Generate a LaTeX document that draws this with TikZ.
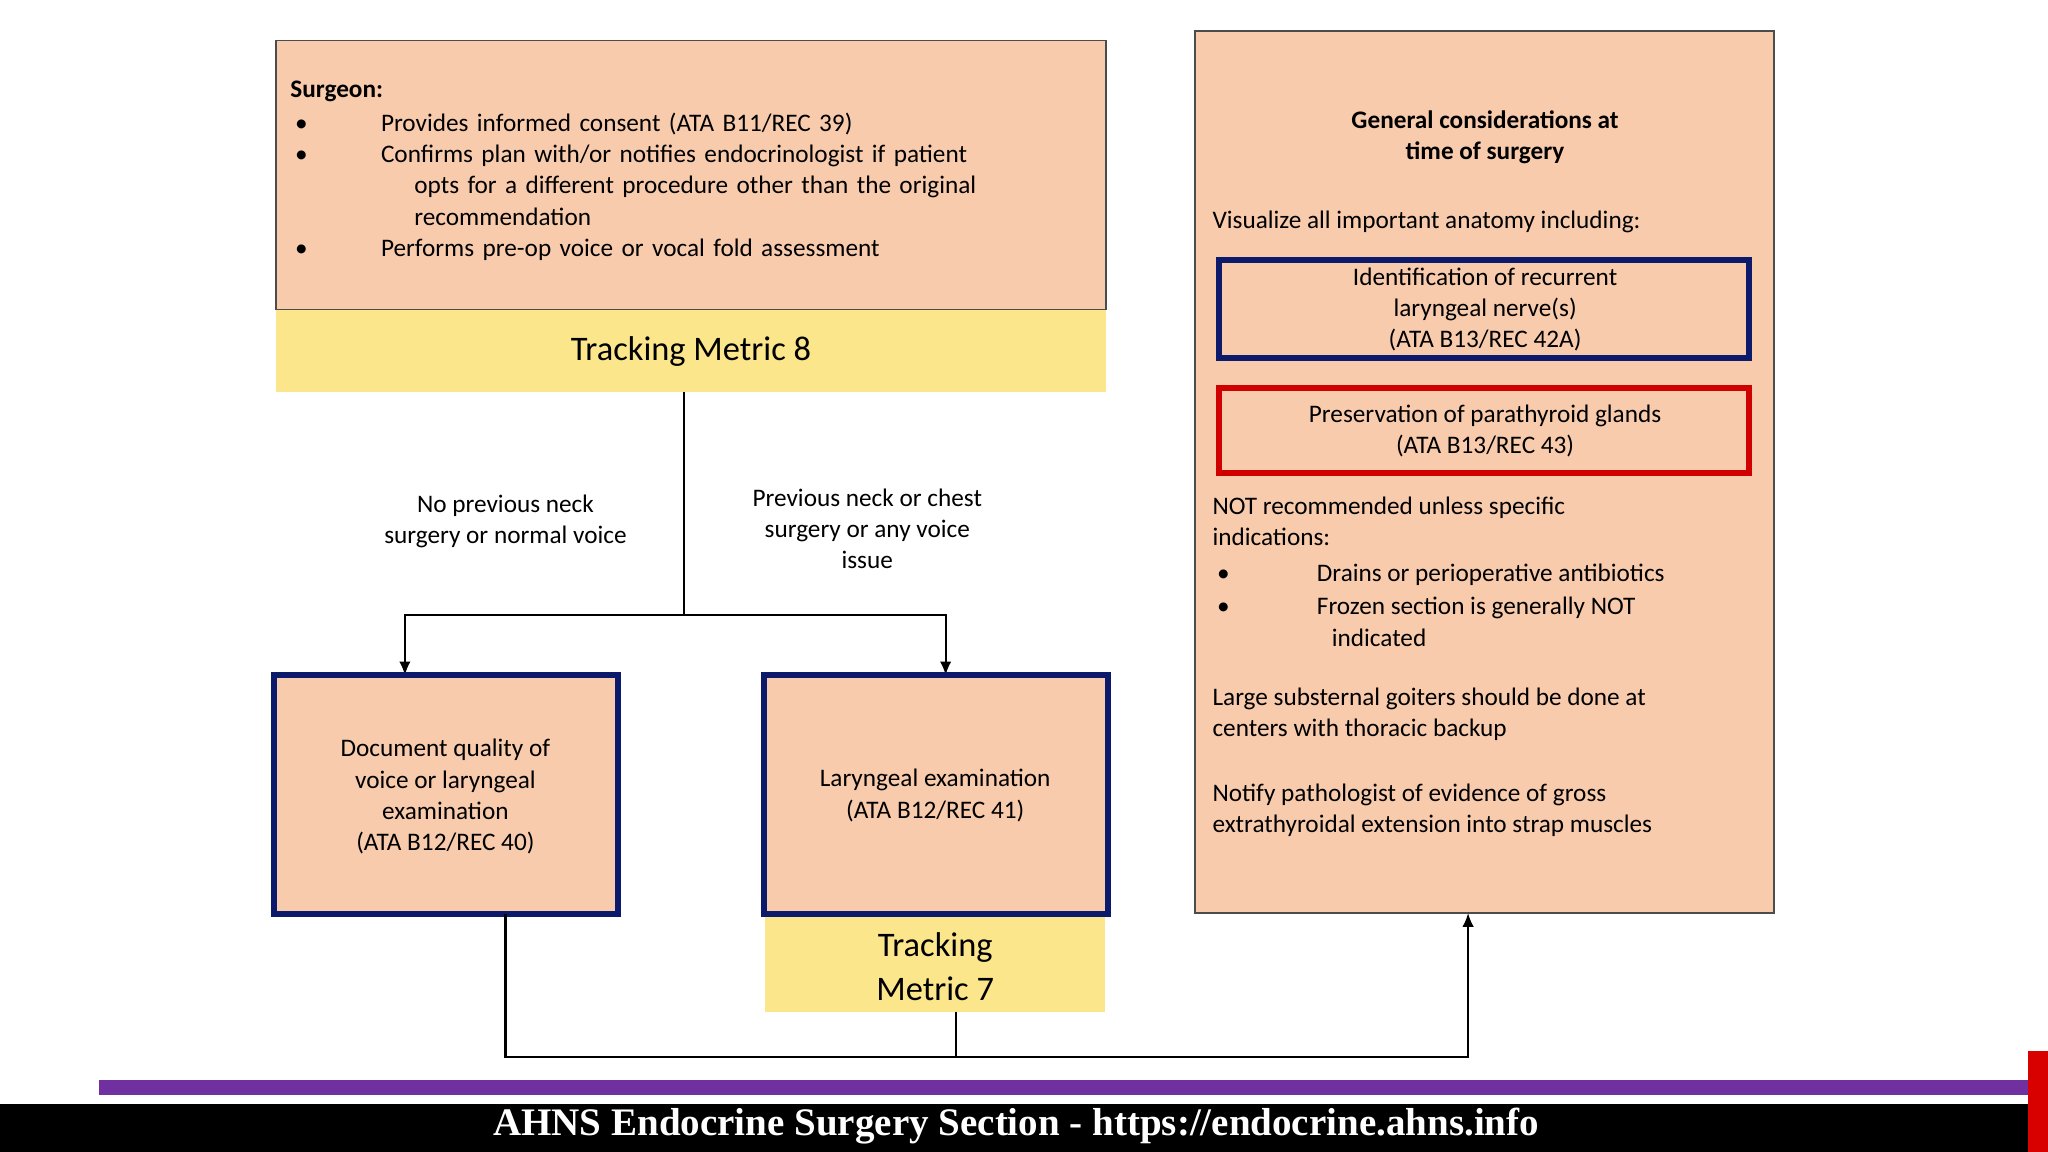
\documentclass[tikz,border=0pt]{standalone}
\usepackage{fontspec}
\setmainfont{Carlito}
\newfontfamily\footfont{Liberation Serif}
\usetikzlibrary{arrows.meta,positioning}
\definecolor{peach}{HTML}{F8CBAD}
\definecolor{metric}{HTML}{FBE68C}
\definecolor{navy}{HTML}{0C1A6B}
\definecolor{boxred}{HTML}{D00000}
\definecolor{bandpurple}{HTML}{7030A0}

\tikzset{
  panel/.style={draw=black!70, fill=peach, line width=0.8pt},
  stepbox/.style={draw=navy, fill=peach, line width=2.6pt},
  band/.style={fill=metric, font=\fontsize{15}{18}\selectfont},
  txt/.style={font=\fontsize{11}{13.6}\selectfont, align=left, inner sep=0pt},
  ctr/.style={font=\fontsize{11}{13.6}\selectfont, align=center, inner sep=0pt},
  flow/.style={line width=0.9pt, -{Latex[length=6pt,width=5pt]}},
  wire/.style={line width=0.9pt}
}

\begin{document}
\begin{tikzpicture}[x=0.02cm,y=-0.02cm]
\useasboundingbox (0,0) rectangle (1568,882);

% surgeon panel
\draw[panel] (211,31) rectangle (847,237);
\node[txt, anchor=north west, text width=590] (surgeon) at (222,62)
 {\textbf{Surgeon:}\\[1pt]
  \hspace*{2pt}\textbullet\hspace{32pt}Provides informed consent (ATA B11/REC 39)\\
  \hspace*{2pt}\textbullet\hspace{32pt}Confirms plan with/or notifies endocrinologist if patient\\
  \hspace*{54pt}opts for a different procedure other than the original\\
  \hspace*{54pt}recommendation\\
  \hspace*{2pt}\textbullet\hspace{32pt}Performs pre-op voice or vocal fold assessment};
\fill[metric] (211,237) rectangle (847,300);
\node[band] (tm8) at (529,269) {Tracking Metric 8};

% branches
\coordinate (split) at (524,471);
\coordinate (tm8b) at (524,300);
\draw[wire] (tm8b) -- (split);
\draw[flow] (split) -| (310,517);
\draw[flow] (split) -| (724,517);
\node[ctr] (nolabel) at (387,399) {No previous neck\\surgery or normal voice};
\node[ctr] (yeslabel) at (664,405) {Previous neck or chest\\surgery or any voice\\issue};

% step boxes
\draw[stepbox] (210,517) rectangle (473,700);
\node[ctr] (document) at (341,610) {Document quality of\\voice or laryngeal\\examination\\(ATA B12/REC 40)};
\draw[stepbox] (585,517) rectangle (848,700);
\node[ctr] (laryngeal) at (716,609) {Laryngeal examination\\(ATA B12/REC 41)};
\fill[metric] (586,702) rectangle (846,775);
\node[band, align=center, font=\fontsize{15}{19}\selectfont] (tm7) at (716,740) {Tracking\\Metric 7};

% general considerations
\draw[panel] (915,24) rectangle (1358,699);
\node[ctr, font=\bfseries\fontsize{11}{13.6}\selectfont] (general) at (1137,105) {General considerations at\\time of surgery};
\node[txt, anchor=west] (visual) at (928,170) {Visualize all important anatomy including:};
\draw[draw=navy, line width=2.6pt] (933,199) rectangle (1339,274);
\node[ctr] (nerve) at (1137,237) {Identification of recurrent\\laryngeal nerve(s)\\(ATA B13/REC 42A)};
\draw[draw=boxred, line width=2.6pt] (933,297) rectangle (1339,362);
\node[ctr] (glands) at (1137,330) {Preservation of parathyroid glands\\(ATA B13/REC 43)};
\node[txt, anchor=north west] (notrec) at (928,380)
 {NOT recommended unless specific\\indications:\\[2pt]
  \hspace*{2pt}\textbullet\hspace{38pt}Drains or perioperative antibiotics\\[1pt]
  \hspace*{2pt}\textbullet\hspace{38pt}Frozen section is generally NOT\\
  \hspace*{52pt}indicated};
\node[txt, anchor=north west] (goiter) at (928,526) {Large substernal goiters should be done at\\centers with thoracic backup};
\node[txt, anchor=north west] (notify) at (928,600) {Notify pathologist of evidence of gross\\extrathyroidal extension into strap muscles};

% return path
\coordinate (join) at (732,809);
\draw[wire] (387,700) |- (join);
\draw[wire] (732,775) -- (join);
\draw[flow] (join) -| (1124,699);

% footer
\fill[bandpurple] (76,827) rectangle (1568,838);
\fill[black] (0,845) rectangle (1568,882);
\fill[red!85!black] (1553,805) rectangle (1568,882);
\node[text=white, font=\footfont\bfseries\fontsize{17}{20}\selectfont] (footer) at (778,862)
 {AHNS Endocrine Surgery Section - https://endocrine.ahns.info};
\end{tikzpicture}
\end{document}
